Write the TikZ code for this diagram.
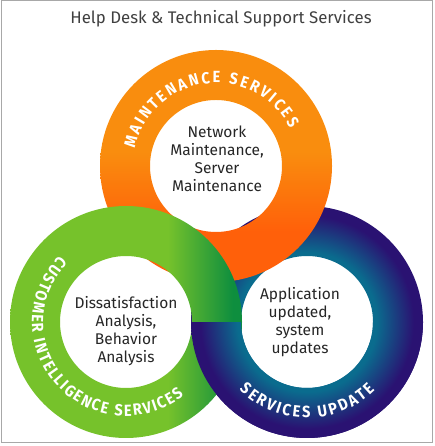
\documentclass[tikz,border=0pt]{standalone}
\usepackage{fontspec}
\setmainfont{Fira Sans}
\newfontfamily\ringfont{Fira Sans}[FakeStretch=0.9]
\usetikzlibrary{decorations.text}

\definecolor{orangetop}{HTML}{F98D0E}
\definecolor{orangebot}{HTML}{FF600A}
\definecolor{greenlite}{HTML}{76C22B}
\definecolor{greendark}{HTML}{0E8E3E}
\definecolor{bluein}{HTML}{0A6C8E}
\definecolor{blueout}{HTML}{2A1272}
\definecolor{titlegray}{HTML}{404040}
\definecolor{innergray}{HTML}{262626}
\definecolor{framegray}{HTML}{A8A8A8}

% the path box covers the middle 50bp of each shading
\pgfdeclareverticalshading{orangering}{100bp}{color(0bp)=(orangebot); color(36bp)=(orangebot); color(53bp)=(orangetop); color(100bp)=(orangetop)}
\pgfdeclarehorizontalshading{greenring}{100bp}{color(0bp)=(greenlite); color(59bp)=(greenlite); color(73bp)=(greendark); color(100bp)=(greendark)}
\pgfdeclareradialshading{bluering}{\pgfpoint{0bp}{0bp}}{color(0bp)=(bluein); color(15bp)=(bluein); color(23bp)=(blueout); color(50bp)=(blueout)}

\newcommand\ringfmt{\ringfont\bfseries\fontsize{16.2}{16}\selectfont\color{white}}

\tikzset{
every node/.style={inner sep=0pt},
inner text/.style={align=center, text=innergray, font=\fontsize{15.5}{18}\selectfont},
ring label/.style={decorate, decoration={text along path, text align={fit to path}}}
}

\begin{document}
\begin{tikzpicture}[x=1pt,y=1pt]
\useasboundingbox (0,0) rectangle (434,446);
\draw[framegray, line width=1pt] (1,3.5) rectangle (432.5,445.5);

\coordinate (maint) at (216,280);
\coordinate (cust) at (126,124);
\coordinate (upd) at (307,124);

% rings
\shade[shading=bluering, even odd rule] (upd) circle[radius=116] (upd) circle[radius=66];
\shade[shading=orangering, even odd rule] (maint) circle[radius=116] (maint) circle[radius=66];
\shade[shading=greenring, even odd rule] (cust) circle[radius=116] (cust) circle[radius=66];
\begin{scope}
\clip (0,0) rectangle (434,123);
\shade[shading=bluering, even odd rule] (upd) circle[radius=116] (upd) circle[radius=66];
\end{scope}

% ring labels
\path[ring label, decoration={text={|\ringfmt|MAINTENANCE SERVICES}}]
  (maint) ++(168:83) arc[start angle=168, end angle=27, radius=83];
\path[ring label, decoration={text={|\ringfmt|CUSTOMER INTELLIGENCE SERVICES}}]
  (cust) ++(135:94) arc[start angle=135, end angle=308, radius=94];
\path[ring label, decoration={text={|\ringfmt|SERVICES UPDATE}}]
  (upd) ++(225:96) arc[start angle=225, end angle=315, radius=96];

\node[anchor=base, text=titlegray, font=\fontsize{16.8}{20}\selectfont] (title) at (221,422) {Help Desk \& Technical Support Services};
\node[inner text] (net) at (217,287) {Network\\Maintenance,\\Server\\Maintenance};
\node[inner text] (dis) at (126,115) {Dissatisfaction\\Analysis,\\Behavior\\Analysis};
\node[inner text] (app) at (300,123.5) {Application\\updated,\\system\\updates};
\end{tikzpicture}
\end{document}
